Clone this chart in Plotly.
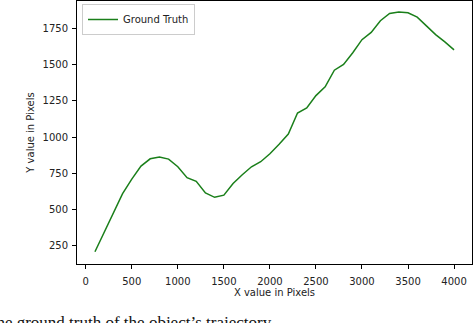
import plotly.graph_objects as go

x_vals = [100, 200, 300, 400, 500, 600, 700, 800, 900, 1000,
          1100, 1200, 1300, 1400, 1500, 1600, 1700, 1800, 1900, 2000,
          2100, 2200, 2300, 2400, 2500, 2600, 2700, 2800, 2900, 3000,
          3100, 3200, 3300, 3400, 3500, 3600, 3700, 3800, 3900, 4000]
y_vals = [210, 340, 470, 610, 710, 800, 850, 862, 848, 795,
          720, 695, 615, 585, 600, 680, 740, 795, 830, 885,
          950, 1020, 1165, 1200, 1285, 1345, 1460, 1500, 1580, 1670,
          1720, 1800, 1850, 1860, 1855, 1825, 1765, 1705, 1655, 1600]
x_ticks = [0, 500, 1000, 1500, 2000, 2500, 3000, 3500, 4000]
y_ticks = [250, 500, 750, 1000, 1250, 1500, 1750]

W, H = 474, 323

fig = go.Figure()
fig.add_trace(go.Scatter(x=x_vals, y=y_vals, mode="lines", name="Ground Truth",
                         line=dict(color="#1a7f1a", width=1.5)))

axis_common = dict(showline=True, linecolor="black", linewidth=1, mirror=True,
                   ticks="outside", ticklen=4, tickcolor="black", tickwidth=1,
                   showgrid=False, zeroline=False,
                   tickfont=dict(family="DejaVu Sans", size=10, color="#222"))

fig.update_layout(
    width=W, height=H, margin=dict(l=0, r=0, t=0, b=0),
    paper_bgcolor="white", plot_bgcolor="white",
    showlegend=True,
    legend=dict(x=82 / W, y=1 - 4 / H, xanchor="left", yanchor="top",
                bordercolor="#cccccc", borderwidth=1, bgcolor="white",
                font=dict(family="DejaVu Sans", size=10, color="#222"),
                itemwidth=30, tracegroupgap=0),
    xaxis=dict(domain=[77 / W, 472 / W], range=[-95, 4195],
               tickvals=x_ticks, ticktext=[str(v) for v in x_ticks],
               ticklabelstandoff=4,
               title=dict(text="X value in Pixels", standoff=0,
                          font=dict(family="DejaVu Sans", size=10, color="#222")),
               **axis_common),
    yaxis=dict(domain=[(H - 264) / H, (H - 1) / H], range=[126, 1936],
               tickvals=y_ticks, ticktext=[str(v) for v in y_ticks],
               ticklabelstandoff=2,
               title=dict(text="Y value in Pixels", standoff=6,
                          font=dict(family="DejaVu Sans", size=10, color="#222")),
               **axis_common),
)

fig.add_annotation(text="The ground truth of the object\u2019s trajectory.",
                   xref="paper", yref="paper", x=-16 / W, y=(H - 311) / H,
                   xanchor="left", yanchor="top", showarrow=False,
                   font=dict(family="Liberation Serif", size=17, color="#111"))

fig.write_html("out.html")
